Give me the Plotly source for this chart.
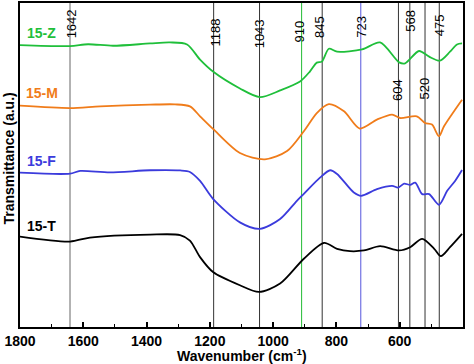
import plotly.graph_objects as go

# ---- data (wavenumber in cm-1, transmittance in arbitrary units) ----
z_wn = [1800, 1642, 1585, 1506, 1389, 1326, 1272, 1231, 1190, 1105, 1042, 978, 915, 884, 862, 846, 824, 798, 719, 662, 602, 583, 539, 507, 473, 441, 419, 403]
z_t  = [283.7, 282.7, 284.5, 283, 285.3, 286.3, 284.3, 269, 257, 240, 231.3, 238, 247, 257, 266, 267, 280, 277, 279.3, 286.3, 266.3, 265.3, 277.7, 272, 268, 277, 284.3, 285.3]

m_wn = [1800, 1642, 1547, 1389, 1310, 1263, 1231, 1190, 1105, 1026, 956, 903, 862, 824, 776, 726, 672, 624, 599, 546, 520, 498, 476, 460, 403]
m_t  = [222.7, 220.3, 222, 223.7, 224, 222, 212, 199.3, 175, 168.7, 177, 197, 215.3, 224.3, 217, 199.7, 208.7, 213.7, 210.3, 212, 205.3, 203.7, 192, 202, 228.7]

f_wn = [1800, 1642, 1610, 1516, 1389, 1294, 1263, 1231, 1190, 1105, 1042, 978, 925, 903, 852, 820, 798, 745, 722, 672, 624, 605, 586, 567, 551, 529, 507, 476, 450, 425, 403]
f_t  = [155.3, 154.3, 157, 155.5, 157.7, 157.5, 156, 147, 129, 105.3, 98.7, 108.7, 127, 134, 150.3, 157.7, 154, 135.3, 132, 138.7, 142, 140.3, 144.3, 143, 145.3, 133.7, 133.7, 123, 137, 147, 158]

t_wn = [1800, 1642, 1579, 1389, 1294, 1263, 1231, 1190, 1105, 1045, 978, 903, 839, 798, 757, 713, 662, 602, 567, 529, 491, 470, 441, 403]
t_t  = [91, 86, 90, 93, 92.5, 87, 70.3, 55.3, 42, 35.3, 43.7, 68.7, 84.7, 78.7, 76.3, 77, 81.3, 77, 80.3, 88.7, 78.7, 71.3, 80.3, 93.7]

series_names = ["15-Z", "15-M", "15-F", "15-T"]
series_colors = ["#1fbf3a", "#f07c1a", "#3b3bdc", "#000000"]
label_y = [296, 235, 167, 102]

peaks = [1642, 1188, 1043, 910, 845, 723, 604, 568, 520, 475]
peak_colors = ["#666666", "#333333", "#333333", "#22bb33", "#333333", "#5555dd", "#333333", "#333333", "#333333", "#333333"]
peak_label_y = [305, 296, 295, 297, 302, 302, 239, 308, 240, 304]
peak_label_shift = [1.5, 2, 0, -2, -2, 1, -1, 1, -1, 1]

x_ticks = [1800, 1600, 1400, 1200, 1000, 800, 600, 400]

fig = go.Figure()

for wn, col in zip(peaks, peak_colors):
    fig.add_shape(type="line", xref="x", yref="paper", x0=wn, x1=wn, y0=0, y1=1,
                  line=dict(color=col, width=1), layer="below")

data = [(z_wn, z_t), (m_wn, m_t), (f_wn, f_t), (t_wn, t_t)]
for (xs, ys), name, col in zip(data, series_names, series_colors):
    fig.add_trace(go.Scatter(x=xs, y=ys, mode="lines", name=name,
                             line=dict(color=col, width=1.8, shape="spline", smoothing=0.8),
                             showlegend=False))

for name, col, ly in zip(series_names, series_colors, label_y):
    fig.add_annotation(x=1732, y=ly, xref="x", yref="y", text=name, showarrow=False,
                       font=dict(family="Liberation Sans, Arial", size=14, color=col, weight="bold"))

for wn, ly, sh in zip(peaks, peak_label_y, peak_label_shift):
    fig.add_annotation(x=wn, y=ly, xref="x", yref="y", text=str(wn), showarrow=False,
                       textangle=-90, xshift=sh, xanchor="center", yanchor="middle",
                       font=dict(family="Liberation Sans, Arial", size=13, color="#000"))

fig.add_annotation(x=-0.027, y=0.52, xref="paper", yref="paper", text="Transmittance (a.u.)",
                   textangle=-90, showarrow=False, xanchor="center", yanchor="middle",
                   font=dict(family="Liberation Sans, Arial", size=14, color="#000", weight="bold"))
fig.add_annotation(x=0.5, y=-0.086, xref="paper", yref="paper",
                   text="Wavenumber (cm<sup>-1</sup>)", showarrow=False,
                   xanchor="center", yanchor="middle",
                   font=dict(family="Liberation Sans, Arial", size=14, color="#000", weight="bold"))

fig.update_layout(
    width=474, height=364,
    margin=dict(l=20, r=11, t=1, b=37),
    paper_bgcolor="white", plot_bgcolor="white",
    xaxis=dict(range=[1800, 400], tickvals=x_ticks, ticktext=[str(v) for v in x_ticks],
               ticks="inside", ticklen=5, tickwidth=1.5, tickcolor="#000",
               minor=dict(dtick=100, ticks="inside", ticklen=3, tickwidth=1.2, tickcolor="#000"),
               showline=True, linecolor="#000", linewidth=2, mirror=True,
               showgrid=False, zeroline=False,
               tickfont=dict(family="Liberation Sans, Arial", size=14, color="#000", weight="bold")),
    yaxis=dict(range=[0, 326], showticklabels=False, ticks="",
               showline=True, linecolor="#000", linewidth=2, mirror=True,
               showgrid=False, zeroline=False),
)

fig.write_html("out.html", config={"displayModeBar": False},
               post_script="document.body.style.margin='0';document.body.style.padding='0';")
